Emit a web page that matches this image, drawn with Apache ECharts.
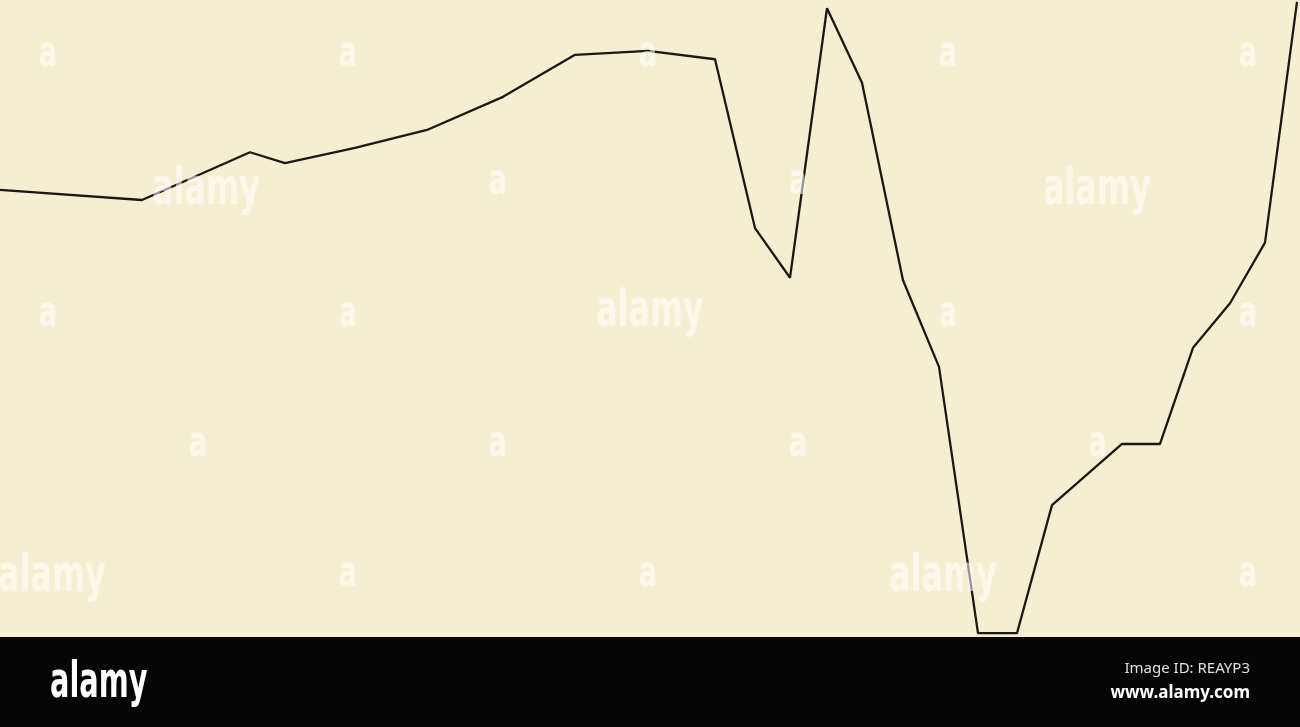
<!DOCTYPE html>
<html><head><meta charset="utf-8">
<script src="https://cdn.jsdelivr.net/npm/echarts@6/dist/echarts.min.js"></script>
<style>html,body{margin:0;padding:0;background:#050505;}#c{width:1300px;height:727px;}</style>
</head><body><div id="c"></div>
<script>
// x positions (arbitrary units, 0-130) and values (0-100 scale)
const xs = [0, 14.2, 25.0, 28.5, 35.5, 42.7, 50.3, 57.5, 64.8, 71.5, 75.5, 79.0, 82.7, 86.2, 90.3, 93.9, 97.8, 101.7, 105.2, 112.2, 116.0, 119.3, 123.0, 126.5, 129.7];
const ys = [70.2, 68.6, 76.1, 74.4, 76.8, 79.6, 84.8, 91.4, 92.0, 90.7, 64.2, 56.4, 98.7, 87.0, 56.0, 42.4, 0.6, 0.6, 20.7, 30.3, 30.3, 45.4, 52.4, 61.9, 99.7];
const imageId = "Image ID: REAYP3";
const site = "www.alamy.com";
const logo = "alamy";

const chart = echarts.init(document.getElementById('c'));
const wm = [];
const rowsA = [[55,[48,348,648,948,1248]],[183,[498,798]],[315,[48,348,948,1248]],[445,[198,498,798,1098]],[575,[348,648,1248]]];
rowsA.forEach(([y,arr])=>arr.forEach(x=>wm.push({type:'text',x:x,y:y,scaleX:0.72,style:{text:'a',fill:'rgba(255,255,255,0.55)',font:'bold 42px "DejaVu Sans Condensed"',align:'center',verticalAlign:'middle'},z:10})));
[[206,190],[1097,190],[650,312],[52,577],[943,577]].forEach(([x,y])=>wm.push({type:'text',x:x,y:y,scaleX:0.68,style:{text:logo,fill:'rgba(255,255,255,0.55)',font:'bold 52px "DejaVu Sans Condensed"',align:'center',verticalAlign:'middle'},z:10}));

chart.setOption({
  backgroundColor:'#050505',
  animation:false,
  grid:{left:0,right:0,top:0,bottom:90,backgroundColor:'#f5efd1',show:true,borderWidth:0},
  xAxis:{type:'value',min:0,max:130,show:false},
  yAxis:{type:'value',min:0,max:100,show:false},
  series:[{type:'line',data:xs.map((x,i)=>[x,ys[i]]),symbol:'none',lineStyle:{color:'#1a1a14',width:2.3},z:5}],
  graphic:wm.concat([
    {type:'text',x:50,y:684,scaleX:0.64,style:{text:logo,fill:'#ffffff',font:'bold 50px "DejaVu Sans Condensed"',align:'left',verticalAlign:'middle'},z:20},
    {type:'text',x:1250,y:669,style:{text:imageId,fill:'#e0e0e0',font:'15px "Noto Sans"',align:'right',verticalAlign:'middle'},z:20},
    {type:'text',x:1250,y:693,style:{text:site,fill:'#ffffff',font:'bold 17px "Noto Sans"',align:'right',verticalAlign:'middle'},z:20}
  ])
});
</script></body></html>
